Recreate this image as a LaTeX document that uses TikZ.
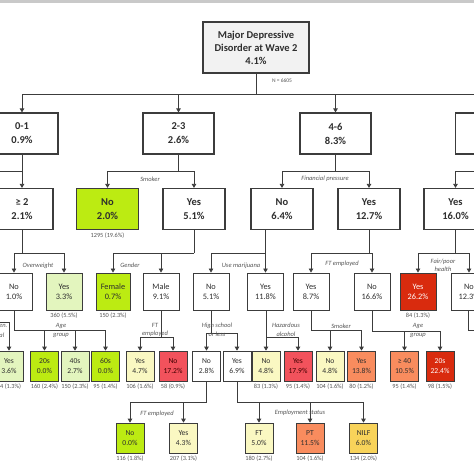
\documentclass[tikz,border=0pt]{standalone}
\usepackage{fontspec}
\setmainfont{Carlito}
\usetikzlibrary{arrows.meta}
\definecolor{lnc}{HTML}{3C3C3C}
\definecolor{txt}{HTML}{2E2E2E}
\definecolor{gtx}{HTML}{555555}
\definecolor{rootf}{HTML}{F2F2F2}
\definecolor{lime}{HTML}{BCEB12}
\definecolor{lgreen}{HTML}{E3F5BE}
\definecolor{lyel}{HTML}{FAF8C2}
\definecolor{pinkr}{HTML}{F2525C}
\definecolor{orng}{HTML}{F98C5E}
\definecolor{dred}{HTML}{D92B0E}
\definecolor{gold}{HTML}{F8D35A}
\definecolor{topg}{HTML}{C9C9C9}
\begin{document}
\begin{tikzpicture}[x=1pt,y=-1pt,
  every node/.style={text=txt},
  bx/.style={draw=lnc, rectangle, align=center, inner sep=0.5pt, fill=white},
  rootbox/.style={bx, line width=1.4pt, fill=rootf, minimum width=106pt, minimum height=51pt, font=\bfseries\fontsize{10.5}{13}\selectfont},
  bigbox/.style={bx, line width=1.2pt, minimum width=62pt, minimum height=41pt, font=\bfseries\fontsize{10.5}{14}\selectfont},
  midbox/.style={bx, line width=0.9pt, minimum width=36pt, minimum height=37pt, font=\fontsize{8.3}{10}\selectfont},
  smbox/.style={bx, line width=0.7pt, minimum width=28pt, minimum height=30pt, font=\fontsize{7.6}{9.5}\selectfont},
  cnt/.style={font=\fontsize{6.3}{7}\selectfont, text=gtx, fill=white, inner sep=0.5pt, anchor=north},
  splab/.style={font=\itshape\fontsize{6.5}{8.5}\selectfont, text=gtx, align=center, inner sep=0.5pt},
  ln/.style={draw=lnc, line width=0.8pt},
  ar/.style={ln, -{Triangle[length=4pt,width=4.5pt]}},
]
\useasboundingbox (0,0) rectangle (474,474);
\clip (0,0) rectangle (474,474);
\fill[topg] (0,0) rectangle (474,2.5);

% ---------- nodes ----------
\node[rootbox] (root) at (256,47.5) {Major Depressive\\Disorder at Wave 2\\4.1\%};
\node[font=\fontsize{5.5}{6}\selectfont, text=gtx] (nlab) at (282,81) {N = 6605};

\node[bigbox, minimum width=72pt] (L1a) at (22,133.5) {0-1\\0.9\%};
\node[bigbox, minimum width=71pt] (L1b) at (178.5,133.5) {2-3\\2.6\%};
\node[bigbox, minimum width=71pt] (L1c) at (335.5,133.5) {4-6\\8.3\%};
\node[bigbox, minimum width=71pt] (L1d) at (491,133.5) {};

\node[bigbox] (L2a) at (22,209) {≥ 2\\2.1\%};
\node[bigbox, fill=lime] (L2b) at (107.5,209) {No\\2.0\%};
\node[bigbox] (L2c) at (194,209) {Yes\\5.1\%};
\node[bigbox] (L2d) at (282,209) {No\\6.4\%};
\node[bigbox] (L2e) at (369,209) {Yes\\12.7\%};
\node[bigbox, minimum width=63pt] (L2f) at (455.5,209) {Yes\\16.0\%};

\node[midbox] (L3a) at (14,291.5) {No\\1.0\%};
\node[midbox, fill=lgreen] (L3b) at (64,291.5) {Yes\\3.3\%};
\node[midbox, fill=lime, minimum width=34pt] (L3c) at (113,291.5) {Female\\0.7\%};
\node[midbox] (L3d) at (161,291.5) {Male\\9.1\%};
\node[midbox] (L3e) at (211,291.5) {No\\5.1\%};
\node[midbox] (L3f) at (265.5,291.5) {Yes\\11.8\%};
\node[midbox] (L3g) at (311,291.5) {Yes\\8.7\%};
\node[midbox] (L3h) at (372,291.5) {No\\16.6\%};
\node[midbox, fill=dred, text=white] (L3i) at (418,291.5) {Yes\\26.2\%};
\node[midbox] (L3j) at (469,291.5) {No\\12.3\%};

\node[smbox, fill=lgreen] (L4a) at (9,366) {Yes\\3.6\%};
\node[smbox, fill=lime] (L4b) at (44.5,366) {20s\\0.0\%};
\node[smbox, fill=lgreen] (L4c) at (75,366) {40s\\2.7\%};
\node[smbox, fill=lime] (L4d) at (105.5,366) {60s\\0.0\%};
\node[smbox, fill=lyel] (L4e) at (140,366) {Yes\\4.7\%};
\node[smbox, fill=pinkr, text=black!75!red] (L4f) at (173,366) {No\\17.2\%};
\node[smbox] (L4g) at (206.5,366) {No\\2.8\%};
\node[smbox] (L4h) at (237,366) {Yes\\6.9\%};
\node[smbox, fill=lyel] (L4i) at (266,366) {No\\4.8\%};
\node[smbox, fill=pinkr, text=black!75!red] (L4j) at (298,366) {Yes\\17.9\%};
\node[smbox, fill=lyel] (L4k) at (330,366) {No\\4.8\%};
\node[smbox, fill=orng] (L4l) at (361.5,366) {Yes\\13.8\%};
\node[smbox, fill=orng] (L4m) at (404.5,366) {≥ 40\\10.5\%};
\node[smbox, fill=dred, text=white] (L4n) at (440,366) {20s\\22.4\%};

\node[smbox, fill=lime] (L5a) at (130,438) {No\\0.0\%};
\node[smbox, fill=lyel] (L5b) at (183.5,438) {Yes\\4.3\%};
\node[smbox, fill=lyel] (L5c) at (259,438) {FT\\5.0\%};
\node[smbox, fill=orng] (L5d) at (310,438) {PT\\11.5\%};
\node[smbox, fill=gold] (L5e) at (363.5,438) {NILF\\6.0\%};

% ---------- connectors ----------
\coordinate (j0) at (256,94);
\draw[ln] (root.south) -- (j0);
\foreach \c in {L1a,L1b,L1c,L1d} \draw[ar] (j0) -| (\c.north);

\coordinate (j1) at (22,171);
\coordinate (offL1) at (-40,171);
\draw[ln] (L1a.south) -- (j1) -- (offL1);
\draw[ar] (j1) -- (L2a.north);

\coordinate (j2) at (178.5,171);
\draw[ln] (L1b.south) -- (j2);
\draw[ar] (j2) -| (L2b.north);
\draw[ar] (j2) -| (L2c.north);

\coordinate (j3) at (335.5,171);
\draw[ln] (L1c.south) -- (j3);
\draw[ar] (j3) -| (L2d.north);
\draw[ar] (j3) -| (L2e.north);

\coordinate (j4) at (491,171);
\draw[ln] (L1d.south) -- (j4);
\draw[ar] (j4) -| (L2f.north);

\coordinate (j5) at (22,253);
\draw[ln] (L2a.south) -- (j5);
\draw[ar] (j5) -| (L3a.north);
\draw[ar] (j5) -| (L3b.north);

\coordinate (j6) at (194,253);
\draw[ln] (L2c.south) -- (j6);
\draw[ar] (j6) -| (L3c.north);
\draw[ar] (j6) -| (L3d.north);

\coordinate (j7) at (265.5,253);
\draw[ar] (L2d.south -| j7) -- (L3f.north);
\draw[ar] (j7) -| (L3e.north);

\coordinate (j8) at (369,253);
\draw[ln] (L2e.south) -- (j8);
\draw[ar] (j8) -| (L3g.north);
\draw[ar] (j8) -| (L3h.north);

\coordinate (j9) at (455.5,253);
\draw[ln] (L2f.south) -- (j9);
\draw[ar] (j9) -| (L3i.north);
\draw[ar] (j9) -| (L3j.north);

\coordinate (j10) at (14,330);
\draw[ln] (L3a.south) -- (j10);
\foreach \c in {L4b,L4c,L4d} \draw[ar] (j10) -| (\c.north);

\coordinate (offL4) at (-20,322);
\draw[ar] (offL4) -| (L4a.north);

\coordinate (j12) at (161,337);
\draw[ln] (L3d.south) -- (j12);
\draw[ar] (j12) -| (L4e.north);
\draw[ar] (j12) -| (L4f.north);

\coordinate (j13) at (211,333);
\draw[ln] (L3e.south) -- (j13);
\draw[ar] (j13) -| (L4g.north);
\draw[ar] (j13) -| (L4h.north);

\coordinate (j14) at (266,337);
\draw[ar] (L3f.south -| j14) -- (L4i.north);
\draw[ar] (j14) -| (L4j.north);

\coordinate (j15) at (311,330);
\draw[ln] (L3g.south) -- (j15);
\draw[ar] (j15) -| (L4k.north);
\draw[ar] (j15) -| (L4l.north);

\coordinate (j16) at (372,331);
\draw[ln] (L3h.south) -- (j16);
\draw[ar] (j16) -| (L4m.north);
\draw[ar] (j16) -| (L4n.north);

\coordinate (jR) at (468,330);
\coordinate (offR) at (500,330);
\draw[ln] (L3j.south -| jR) -- (jR) -- (offR);

\coordinate (j20) at (206.5,402);
\draw[ln] (L4g.south) -- (j20);
\draw[ar] (j20) -| (L5a.north);
\draw[ar] (j20) -| (L5b.north);

\coordinate (j21) at (237,402);
\draw[ln] (L4h.south) -- (j21);
\foreach \c in {L5c,L5d,L5e} \draw[ar] (j21) -| (\c.north);

% ---------- split labels ----------
\node[splab] (s1) at (150,179) {Smoker};
\node[splab] (s2) at (325,179) {Financial pressure};
\node[splab] (s3) at (38,266) {Overweight};
\node[splab] (s4) at (130,265) {Gender};
\node[splab] (s5) at (241,266) {Use marijuana};
\node[splab] (s6) at (342,264) {FT employed};
\node[splab] (s7) at (443,265.5) {Fair/poor\\health};
\node[splab] (s8) at (61,330.5) {Age\\group};
\node[splab, anchor=east] (s9) at (8,326) {een.};
\node[splab, anchor=east] (s10) at (5,335) {al};
\node[splab] (s11) at (155,330) {FT\\employed};
\node[splab] (s12) at (217,330) {High school\\or less};
\node[splab] (s13) at (286,330) {Hazardous\\alcohol};
\node[splab] (s14) at (341,326) {Smoker};
\node[splab] (s15) at (418,330.5) {Age\\group};
\node[splab] (s16) at (157,414) {FT employed};
\node[splab] (s17) at (300,413) {Employment status};

% ---------- counts ----------
\node[cnt] at ([yshift=-2pt]L2b.south) {1295 (19.6\%)};
\node[cnt] at ([yshift=-2pt]L3b.south) {360 (5.5\%)};
\node[cnt] at ([yshift=-2pt]L3c.south) {150 (2.3\%)};
\node[cnt] at ([yshift=-2pt]L3i.south) {84 (1.3\%)};
\node[cnt] at ([yshift=-2pt]L4a.south) {84 (1.3\%)};
\node[cnt] at ([yshift=-2pt]L4b.south) {160 (2.4\%)};
\node[cnt] at ([yshift=-2pt]L4c.south) {150 (2.3\%)};
\node[cnt] at ([yshift=-2pt]L4d.south) {95 (1.4\%)};
\node[cnt] at ([yshift=-2pt]L4e.south) {106 (1.6\%)};
\node[cnt] at ([yshift=-2pt]L4f.south) {58 (0.9\%)};
\node[cnt] at ([yshift=-2pt]L4i.south) {83 (1.3\%)};
\node[cnt] at ([yshift=-2pt]L4j.south) {95 (1.4\%)};
\node[cnt] at ([yshift=-2pt]L4k.south) {104 (1.6\%)};
\node[cnt] at ([yshift=-2pt]L4l.south) {80 (1.2\%)};
\node[cnt] at ([yshift=-2pt]L4m.south) {95 (1.4\%)};
\node[cnt] at ([yshift=-2pt]L4n.south) {98 (1.5\%)};
\node[cnt] at ([yshift=-2pt]L5a.south) {116 (1.8\%)};
\node[cnt] at ([yshift=-2pt]L5b.south) {207 (3.1\%)};
\node[cnt] at ([yshift=-2pt]L5c.south) {180 (2.7\%)};
\node[cnt] at ([yshift=-2pt]L5d.south) {104 (1.6\%)};
\node[cnt] at ([yshift=-2pt]L5e.south) {134 (2.0\%)};
\end{tikzpicture}
\end{document}
